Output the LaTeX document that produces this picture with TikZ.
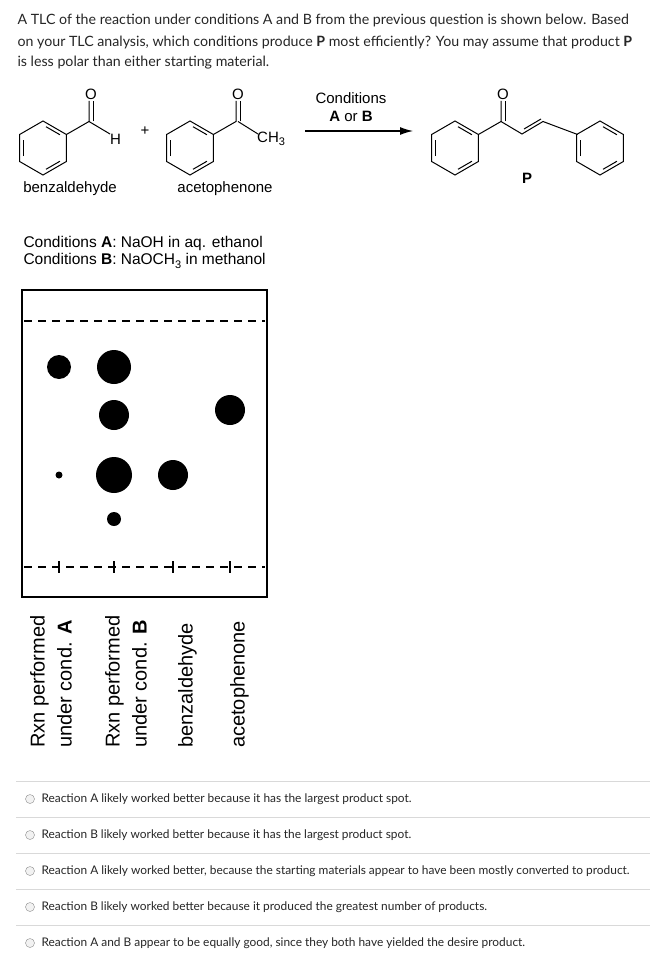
\documentclass[tikz,border=0pt]{standalone}
\usepackage{fontspec}
\setmainfont{Lato}
\newfontfamily\arial{Liberation Sans}
\usetikzlibrary{arrows.meta}
\newcommand{\mybenz}[2]{%
  \draw[line width=1pt] (#1,#2) ++(30:27) -- ++(150:27) -- ++(210:27) -- ++(270:27) -- ++(330:27) -- ++(30:27) -- cycle;
  \foreach \a in {30,150,270}{\draw[line width=1pt] ($(#1,#2)+(\a+8:21.5)$) -- ($(#1,#2)+(\a+52:21.5)$);}
}
\newcommand{\mysub}[1]{\raisebox{-3.5pt}{\fontsize{11}{12}\selectfont #1}}
\usetikzlibrary{calc}
\begin{document}
\begin{tikzpicture}[x=1pt,y=-1pt,
  qtxt/.style={anchor=west,font=\fontsize{11.9}{13}\selectfont,text=black!85},
  spot/.style={fill=black},
  lbl/.style={font=\arial\fontsize{15}{17}\selectfont},
  lane/.style={rotate=90,anchor=north west,align=left,font=\arial\fontsize{20}{27}\selectfont,inner sep=0pt}]
\useasboundingbox[fill=white] (0,0) rectangle (666,963);
% header
\node[anchor=west,font=\fontsize{14.2}{15}\selectfont,text=black!85] (h1) at (14,20) {A TLC of the reaction under conditions A and B from the previous question is shown below. Based};
\node[anchor=west,font=\fontsize{14.2}{15}\selectfont,text=black!85] (h2) at (14,42) {on your TLC analysis, which conditions produce \textbf{P} most efficiently? You may assume that product \textbf{P}};
\node[anchor=west,font=\fontsize{14.2}{15}\selectfont,text=black!85] (h3) at (14,63) {is less polar than either starting material.};
% benzaldehyde
\mybenz{43}{148}
\draw[line width=1pt] (66.4,134.5) -- (89,121.5) -- (89,101);
\draw[line width=1pt] (93,121.5) -- (93,101);
\node[lbl] (o1) at (91,94) {O};
\draw[line width=1pt] (89,121.5) -- (110,134);
\node[lbl,anchor=west,inner sep=1pt] (hh) at (109,139) {H};
\node[lbl] (plus) at (145,131) {+};
% acetophenone
\mybenz{190}{148}
\draw[line width=1pt] (213.4,134.5) -- (236,121.5) -- (236,101);
\draw[line width=1pt] (240,121.5) -- (240,101);
\node[lbl] (o2) at (238,94) {O};
\draw[line width=1pt] (238,121.5) -- (258,134);
\node[lbl,anchor=west,inner sep=1pt] (ch3) at (256,139) {CH\mysub{3}};
\node[lbl] (lb1) at (70,189) {benzaldehyde};
\node[lbl] (lb2) at (225,189) {acetophenone};
% arrow
\coordinate (a1) at (305,131); \coordinate (a2) at (413,131);
\draw[line width=1.2pt,-{Latex[length=13pt,width=8pt]}] (a1) -- (a2);
\node[lbl] (c1) at (351,98) {Conditions};
\node[lbl] (c2) at (351,116) {\textbf{A} or \textbf{B}};
% product
\mybenz{455}{148}
\draw[line width=1pt] (478.4,134.5) -- (501,121.5) -- (501,101);
\draw[line width=1pt] (505,121.5) -- (505,101);
\node[lbl] (o3) at (503,94) {O};
\draw[line width=1pt] (501,121.5) -- (522,134) -- (543,121.5) -- (577.6,134.5) ;
\draw[line width=1pt] (524,129) -- (541,119);
\mybenz{600}{148}
\node[lbl] (p) at (527,178) {\textbf{P}};
% conditions
\node[lbl,anchor=west,font=\arial\fontsize{15.5}{17}\selectfont] (ca) at (20,243) {Conditions \textbf{A}: NaOH in aq. ethanol};
\node[lbl,anchor=west,font=\arial\fontsize{15.5}{17}\selectfont] (cb) at (20,261) {Conditions \textbf{B}: NaOCH\mysub{3} in methanol};
% TLC plate
\draw[line width=1.5pt] (22,290) rectangle (267,597);
\draw[line width=1.5pt,dash pattern=on 8pt off 6pt] (24,321) -- (265,321);
\draw[line width=1.5pt,dash pattern=on 8pt off 6pt] (24,567) -- (265,567);
\foreach \x in {59,114,173,230}{\draw[line width=1.5pt] (\x,561) -- (\x,573);}
\fill[spot] (59,367) circle (12);
\fill[spot] (59,475) circle (3.5);
\fill[spot] (114,367) circle (17);
\fill[spot] (114,415) circle (15);
\fill[spot] (114,475) circle (18);
\fill[spot] (114,519) circle (7);
\fill[spot] (173,475) circle (15);
\fill[spot] (230,410) circle (15);
\node[lane] (l1) at (30,748) {Rxn performed\\under cond. \textbf{A}};
\node[lane] (l2) at (105,748) {Rxn performed\\under cond. \textbf{B}};
\node[lane] (l3) at (178,748) {benzaldehyde};
\node[lane] (l4) at (230,748) {acetophenone};
% answers
\foreach \y in {781,817,853,889,925}{\draw[black!15] (16,\y) -- (650,\y);}
\foreach \y/\t in {799/{Reaction A likely worked better because it has the largest product spot.},
  835/{Reaction B likely worked better because it has the largest product spot.},
  871/{Reaction A likely worked better, because the starting materials appear to have been mostly converted to product.},
  907/{Reaction B likely worked better because it produced the greatest number of products.},
  943/{Reaction A and B appear to be equally good, since they both have yielded the desire product.}}{
  \draw[black!45,fill=black!5] (30,\y) circle (4.5);
  \node[qtxt] at (38,\y) {\t};}
\end{tikzpicture}
\end{document}
